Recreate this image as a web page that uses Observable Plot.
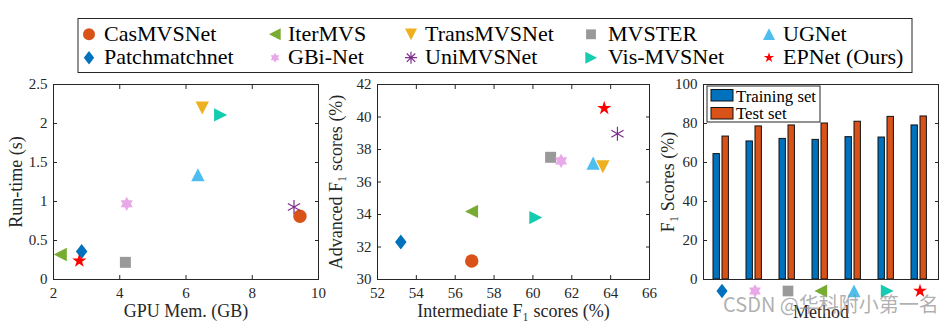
<!DOCTYPE html>
<html><head><meta charset="utf-8">
<script src="https://cdn.jsdelivr.net/npm/d3@7"></script>
<script src="https://cdn.jsdelivr.net/npm/@observablehq/plot@0.6"></script>
<style>
html,body{margin:0;padding:0;background:#fff;}
#fig{position:relative;width:945px;height:323px;overflow:hidden;font-family:"Liberation Serif","Times New Roman",serif;}
#fig svg{position:absolute;left:0;top:0;}
#fig svg text{font-family:"Liberation Serif","Times New Roman",serif !important;}
#fig svg text.wm{font-family:"Noto Sans CJK SC","Noto Sans",sans-serif !important;}
</style></head><body><div id="fig"></div>
<script>
// ---------- data ----------
const methods = ["CasMVSNet","IterMVS","TransMVSNet","MVSTER","UGNet","Patchmatchnet","GBi-Net","UniMVSNet","Vis-MVSNet","EPNet (Ours)"];
const colors  = ["#D95319","#77AC30","#EDB120","#999999","#4DBEEE","#0072BD","#E9A9E9","#7E2F8E","#14CCB0","#FF0000"];
const shapes  = ["circle","triangleLeft","triangleDown","square","triangleUp","diamond","hexagram","asterisk","triangleRight","pentagram"];
const gpuMem  = [9.44, 2.21, 6.49, 4.17, 6.36, 2.85, 4.21, 9.26, 7.04, 2.78];
const runTime = [0.81, 0.32, 2.20, 0.22, 1.34, 0.36, 0.97, 0.93, 2.11, 0.24];
const interF1 = [56.85, 56.85, 63.6, 60.91, 63.1, 53.2, 61.45, 64.35, 60.14, 63.67];
const advF1   = [31.14, 34.19, 36.95, 37.52, 37.15, 32.31, 37.3, 38.97, 33.81, 40.54];

const barMethods = ["Patchmatchnet","GBi-Net","MVSTER","IterMVS","UGNet","Vis-MVSNet","EPNet (Ours)"];
const trainF1 = [64.3, 70.8, 72.1, 71.6, 73.0, 72.8, 79.0];
const testF1  = [73.3, 78.5, 79.0, 80.0, 80.9, 83.4, 83.6];
const seriesNames = ["Training set","Test set"];
const seriesColors = ["#0072BD","#D95319"];

const gpuTicks = [2,4,6,8,10];
const rtTicks = [0,0.5,1,1.5,2,2.5];
const interTicks = [52,54,56,58,60,62,64,66];
const advTicks = [30,32,34,36,38,40,42];
const f1Ticks = [0,20,40,60,80,100];

// ---------- symbols ----------
const S = f => ({draw(ctx, size){ f(ctx, Math.sqrt(size/Math.PI)); }});
const poly = (ctx, pts) => { ctx.moveTo(pts[0][0], pts[0][1]); for (const p of pts.slice(1)) ctx.lineTo(p[0], p[1]); ctx.closePath(); };
const starPath = (ctx, n, R, r) => { const pts=[]; for (let i=0;i<2*n;i++){ const a=i*Math.PI/n; const rr=i%2? r:R; pts.push([rr*Math.sin(a), -rr*Math.cos(a)]);} poly(ctx, pts); };
const symbolDefs = {
  circle: S((c,s)=>{c.moveTo(s,0); c.arc(0,0,s,0,2*Math.PI);}),
  square: S((c,s)=>{const a=0.82*s; poly(c,[[-a,-a],[a,-a],[a,a],[-a,a]]);}),
  diamond: S((c,s)=>{const w=0.86*s,h=1.12*s; poly(c,[[0,-h],[w,0],[0,h],[-w,0]]);}),
  triangleUp: S((c,s)=>poly(c,[[0,-s],[s,0.95*s],[-s,0.95*s]])),
  triangleDown: S((c,s)=>poly(c,[[0,s],[s,-0.95*s],[-s,-0.95*s]])),
  triangleLeft: S((c,s)=>poly(c,[[-s,0],[0.95*s,-s],[0.95*s,s]])),
  triangleRight: S((c,s)=>poly(c,[[s,0],[-0.95*s,-s],[-0.95*s,s]])),
  hexagram: S((c,s)=>starPath(c,6,1.05*s,1.05*s/Math.sqrt(3))),
  pentagram: S((c,s)=>starPath(c,5,1.12*s,1.12*s*0.382)),
  asterisk: S((c,s)=>{for(let i=0;i<4;i++){const a=i*Math.PI/4; c.moveTo(-s*Math.cos(a),-s*Math.sin(a)); c.lineTo(s*Math.cos(a),s*Math.sin(a));}})
};

const pts = methods.map((m,i)=>({method:m, gpu:gpuMem[i], rt:runTime[i], inter:interF1[i], adv:advF1[i], shape:shapes[i]}));
const filled = pts.filter(d=>d.shape!=="asterisk");
const stroked = pts.filter(d=>d.shape==="asterisk");
const bars = barMethods.map((m,i)=>({method:m, train:trainF1[i], test:testF1[i], shape:shapes[methods.indexOf(m)]}));

const INK = "#262626";
const base = {
  width:945, height:323, marginTop:84, marginBottom:44,
  style:"background:transparent;overflow:visible;max-width:none;font-size:15px;color:#262626;",
  color:{domain:methods, range:colors},
  symbol:{domain:Object.keys(symbolDefs), range:Object.values(symbolDefs)}
};
const fmt = d => String(d);
const blank = () => "";
const tf = {fontSize:15};
const lf = {fontSize:18};
function frameAxes(xTicks, yTicks, xLabel, yLabel, yLabelOffset, xLabelOffset){
  const m = [Plot.frame({stroke:INK})];
  if (xTicks) {
    m.push(Plot.axisX({ticks:xTicks, tickSize:-4, tickPadding:12, tickFormat:fmt, label:null, ...tf}));
    m.push(Plot.axisX({anchor:"top", ticks:xTicks, tickSize:-4, tickFormat:blank, label:null}));
  }
  m.push(Plot.axisY({ticks:yTicks, tickSize:-4, tickPadding:10, tickFormat:fmt, label:null, ...tf}));
  m.push(Plot.axisY({anchor:"right", ticks:yTicks, tickSize:-4, tickFormat:blank, label:null}));
  m.push(Plot.axisX({ticks:[], label:xLabel, labelAnchor:"center", labelArrow:"none", labelOffset:xLabelOffset, ...lf}));
  m.push(Plot.axisY({ticks:[], label:yLabel, labelAnchor:"center", labelArrow:"none", labelOffset:yLabelOffset, ...lf}));
  return m;
}
function scatterMarks(xk, yk){
  return [
    Plot.dot(filled, {x:xk, y:yk, symbol:"shape", fill:"method", stroke:"none", r:6.7}),
    Plot.dot(stroked, {x:xk, y:yk, symbol:"shape", stroke:"method", fill:"none", strokeWidth:1.2, r:6.7})
  ];
}

const fig = document.getElementById("fig");

// Panel 1
fig.append(Plot.plot({...base, marginLeft:53, marginRight:945-318,
  x:{domain:[2,10]}, y:{domain:[0,2.5]},
  marks:[...scatterMarks("gpu","rt"), ...frameAxes(gpuTicks, rtTicks, "GPU Mem. (GB)", "Run-time (s)", 44, 37)]
}));
// Panel 2
fig.append(Plot.plot({...base, marginLeft:377, marginRight:945-649,
  x:{domain:[52,66]}, y:{domain:[30,42]},
  marks:[...scatterMarks("inter","adv"), ...frameAxes(interTicks, advTicks, "Intermediate F\u2081 scores (%)", "Advanced F\u2081 scores (%)", 48, 37)]
}));
// Panel 3
fig.append(Plot.plot({...base, marginLeft:703, marginRight:945-938,
  x:{type:"band", domain:barMethods, padding:0}, y:{domain:[0,100]},
  marks:[
    Plot.barY(bars, {x:"method", y:"train", fill:seriesColors[0], stroke:"#111", strokeWidth:1, insetLeft:8, insetRight:18.6}),
    Plot.barY(bars, {x:"method", y:"test", fill:seriesColors[1], stroke:"#111", strokeWidth:1, insetLeft:17, insetRight:9.6}),
    ...frameAxes(null, f1Ticks, "Method", "F\u2081 Scores (%)", 42, 38),
    Plot.dot(bars, {x:"method", frameAnchor:"bottom", dy:11.5, symbol:"shape", fill:"method", stroke:"none", r:6.5})
  ]
}));

// Overlay: legends and watermark
const ov = d3.select(fig).append("svg").attr("width",945).attr("height",323);
// main legend
ov.append("rect").attr("x",78).attr("y",18.5).attr("width",834).attr("height",54).attr("fill","#fff").attr("stroke",INK).attr("stroke-width",1);
const symX = [89, 275, 411, 591, 769], txtX = [104, 288, 425, 608, 783];
const rowY = [34.3, 57.7], rowBase = [40.5, 64.3];
methods.forEach((m,i)=>{
  const col = i%5, row = Math.floor(i/5);
  const sh = shapes[i];
  const r = (sh==="pentagram"||sh==="hexagram") ? 4.8 : 6;
  const p = ov.append("path").attr("d", d3.symbol(symbolDefs[sh], Math.PI*r*r)())
    .attr("transform",`translate(${symX[col]},${rowY[row]})`);
  if (sh==="asterisk") p.attr("fill","none").attr("stroke",colors[i]).attr("stroke-width",1.2);
  else p.attr("fill",colors[i]);
  ov.append("text").attr("x",txtX[col]).attr("y",rowBase[row]).attr("font-size",22).attr("fill","#000").text(m);
});
// bar legend
ov.append("rect").attr("x",707).attr("y",86).attr("width",113).attr("height",36).attr("fill","#fff").attr("stroke",INK).attr("stroke-width",1);
seriesNames.forEach((s,i)=>{
  ov.append("rect").attr("x",711).attr("y",89.5+i*18).attr("width",22).attr("height",11.5).attr("fill",seriesColors[i]).attr("stroke","#111");
  ov.append("text").attr("x",736).attr("y",101.5+i*17.7).attr("font-size",16.8).attr("fill","#000").text(s);
});
// watermark
ov.append("text").attr("class","wm").attr("x",723).attr("y",312)
  .attr("font-size",20).attr("fill","rgba(150,150,150,0.75)").text("CSDN @华科附小第一名");
</script></body></html>
